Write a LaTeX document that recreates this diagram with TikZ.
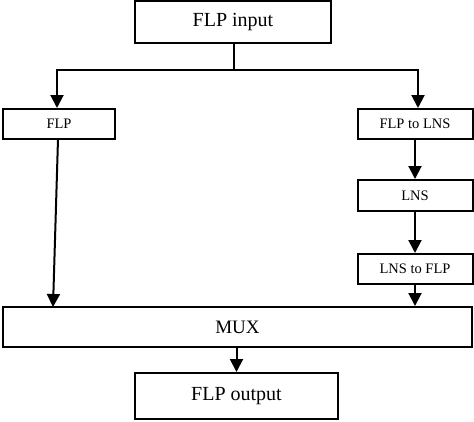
\documentclass[tikz,border=0pt]{standalone}
\usepackage{fontspec}
\setmainfont{Liberation Serif}
\usetikzlibrary{arrows.meta}
\begin{document}
\begin{tikzpicture}[x=1pt,y=-1pt,
  box/.style={draw=black,line width=2pt,inner sep=0pt,fill=white},
  big/.style={font=\fontsize{20}{24}\selectfont},
  small/.style={font=\fontsize{14.5}{17}\selectfont},
  conn/.style={line width=2pt},
  arr/.style={conn,-{Triangle[length=13pt,width=13pt]}}]
\useasboundingbox (0,0) rectangle (474,421);
\node[box,big,minimum width=196pt,minimum height=42pt] (in) at (233,22) {FLP input};
\node[box,small,minimum width=112pt,minimum height=30pt] (flp) at (59,124) {FLP};
\node[box,small,minimum width=115pt,minimum height=30pt] (f2l) at (415,124) {FLP to LNS};
\node[box,small,minimum width=115pt,minimum height=31pt] (lns) at (415,195.5) {LNS};
\node[box,small,minimum width=115pt,minimum height=30pt] (l2f) at (415,269) {LNS to FLP};
\node[box,font=\fontsize{19}{22}\selectfont,minimum width=469pt,minimum height=40pt] (mux) at (237.5,327) {MUX};
\node[box,big,minimum width=203pt,minimum height=46pt] (out) at (236.5,396) {FLP output};
\coordinate (j) at (234,70);
\coordinate (jl) at (57,70);
\coordinate (jr) at (418,70);
\coordinate (fb) at (58,139);
\coordinate (mt) at (53,307);
\draw[conn] (in.south -| j) -- (j);
\draw[arr] (jl) -- (jl |- flp.north);
\draw[conn,line cap=rect] (jl) -- (jr);
\draw[arr] (jr) -- (jr |- f2l.north);
\draw[arr] (fb) -- (mt);
\draw[arr] (f2l.south) -- (lns.north);
\draw[arr] (lns.south) -- (l2f.north);
\draw[arr] (l2f.south) -- (l2f.south |- mux.north);
\draw[arr] (mux.south -| out.north) -- (out.north);
\end{tikzpicture}
\end{document}
